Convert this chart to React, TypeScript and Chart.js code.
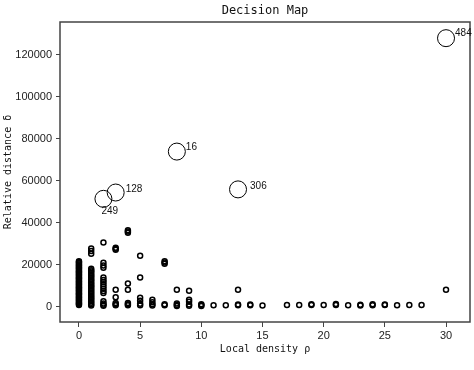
import React, { useEffect, useRef } from "react";
import { Chart, registerables } from "chart.js";

Chart.register(...registerables);

const TITLE = "Decision Map";
const X_TITLE = "Local density ρ";
const Y_TITLE = "Relative distance δ";

const X_TICKS = [0, 5, 10, 15, 20, 25, 30];
const Y_TICKS = [0, 20000, 40000, 60000, 80000, 100000, 120000];

// Highlighted cluster centres
const BIG_X = [30, 8, 3, 2, 13];
const BIG_Y = [128000, 74000, 54500, 51500, 56000];
const BIG_LABELS = ["484", "16", "128", "249", "306"];

// Ordinary points, grouped by local density value
const COL_X = [0, 1, 2, 3, 4, 5, 6, 7, 8, 9, 10, 11, 12, 13, 14, 15, 17, 18, 19, 20, 21, 22, 23, 24, 25, 26, 27, 28, 30];
const COL_Y = [
  [21800, 21400, 20900, 20300, 19900, 19400, 18800, 18400, 17900, 17300, 16800, 16400, 15800, 15300, 14900, 14300, 13800, 13400, 12800, 12300, 11900, 11300, 10800, 10400, 9800, 9300, 8900, 8300, 7800, 7400, 6800, 6300, 5900, 5300, 4800, 4400, 3800, 3300, 2900, 2300, 1800, 1400, 900],
  [27800, 26600, 25300, 18200, 17500, 16900, 16200, 15400, 14700, 14000, 13200, 12600, 11800, 11100, 10400, 9700, 9000, 8300, 7600, 6900, 6200, 5500, 4800, 4100, 3400, 2700, 2000, 1300, 700],
  [30700, 21100, 19800, 18700, 14000, 12900, 11900, 10800, 9700, 8700, 7600, 6700, 2700, 1600, 1100, 600],
  [28200, 27700, 27200, 8200, 4600, 1900, 1300, 800],
  [36500, 36000, 35400, 11200, 8200, 1900, 1300, 800],
  [24400, 14000, 4400, 3000, 1500, 800],
  [3400, 2200, 1300, 700],
  [21800, 21200, 20600, 1300, 800],
  [8200, 1600, 1000, 500],
  [7700, 3400, 2500, 1200, 600],
  [1300, 900, 500],
  [800],
  [800],
  [8200, 1200, 800],
  [1200, 800],
  [700],
  [900],
  [900],
  [1300, 900],
  [1000],
  [1400, 900],
  [800],
  [1100, 700],
  [1300, 800],
  [1200, 900],
  [800],
  [1000],
  [1000],
  [8200],
];

const MONO = "'DejaVu Sans Mono', monospace";
const SANS = "'Liberation Sans', Arial, sans-serif";

const framePlugin = {
  id: "frame",
  afterDatasetsDraw(chart: any) {
    const { ctx, chartArea } = chart;
    ctx.save();
    ctx.strokeStyle = "#444";
    ctx.lineWidth = 1.5;
    ctx.strokeRect(chartArea.left, chartArea.top, chartArea.right - chartArea.left, chartArea.bottom - chartArea.top);
    ctx.restore();
  },
};

const LABEL_OFFSETS: Record<string, [number, number]> = {
  "484": [9, -5],
  "16": [9, -4],
  "128": [10, -3],
  "249": [-2, 12],
  "306": [12, -3],
};

const labelPlugin = {
  id: "centreLabels",
  afterDatasetsDraw(chart: any) {
    const { ctx } = chart;
    const meta = chart.getDatasetMeta(1);
    ctx.save();
    ctx.font = `10px ${SANS}`;
    ctx.fillStyle = "#111";
    ctx.textAlign = "left";
    ctx.textBaseline = "middle";
    meta.data.forEach((el: any, i: number) => {
      const lab = BIG_LABELS[i];
      const off = LABEL_OFFSETS[lab] || [9, -4];
      ctx.fillText(lab, el.x + off[0], el.y + off[1]);
    });
    ctx.restore();
  },
};

export default function App() {
  const ref = useRef<HTMLCanvasElement | null>(null);

  useEffect(() => {
    if (!ref.current) return;
    const small: { x: number; y: number }[] = [];
    COL_X.forEach((x, i) => COL_Y[i].forEach((y) => small.push({ x, y })));
    const big = BIG_X.map((x, i) => ({ x, y: BIG_Y[i] }));

    const chart = new Chart(ref.current, {
      type: "scatter",
      data: {
        datasets: [
          {
            data: small,
            pointRadius: 2.5,
            pointBorderWidth: 1.5,
            pointBorderColor: "#000",
            pointBackgroundColor: "rgba(0,0,0,0)",
          },
          {
            data: big,
            pointRadius: 8.5,
            pointBorderWidth: 1,
            pointBorderColor: "#000",
            pointBackgroundColor: "rgba(0,0,0,0)",
          },
        ],
      },
      options: {
        animation: false,
        responsive: false,
        layout: { autoPadding: false, padding: { top: 0, right: 4, bottom: 0, left: 0 } },
        plugins: {
          legend: { display: false },
          tooltip: { enabled: false },
          title: {
            display: true,
            text: TITLE,
            fullSize: false,
            color: "#111",
            font: { family: MONO, size: 12, weight: "normal" },
            padding: { top: 4, bottom: 3.6 },
          },
        },
        scales: {
          x: {
            type: "linear",
            min: -1.55,
            max: 31.96,
            afterBuildTicks: (s: any) => {
              s.ticks = X_TICKS.map((v) => ({ value: v }));
            },
            afterFit: (s: any) => {
              s.height = 48;
              s.paddingLeft = 0;
              s.paddingRight = 0;
            },
            grid: { display: true, drawOnChartArea: false, drawTicks: true, tickLength: 5, color: "#444" },
            border: { display: false },
            ticks: {
              color: "#222",
              font: { family: SANS, size: 11 },
              padding: 2,
              maxRotation: 0,
              callback: (v: any) => String(v),
            },
            title: {
              display: true,
              text: X_TITLE,
              color: "#111",
              font: { family: MONO, size: 10 },
              padding: { top: 0, bottom: 15 },
            },
          },
          y: {
            type: "linear",
            min: -7150,
            max: 135700,
            afterBuildTicks: (s: any) => {
              s.ticks = Y_TICKS.map((v) => ({ value: v }));
            },
            afterFit: (s: any) => {
              s.width = 60;
              s.paddingTop = 0;
              s.paddingBottom = 0;
            },
            grid: { display: true, drawOnChartArea: false, drawTicks: true, tickLength: 4, color: "#444" },
            border: { display: false },
            ticks: {
              color: "#222",
              font: { family: SANS, size: 11 },
              padding: 4,
              callback: (v: any) => String(v),
            },
            title: {
              display: true,
              text: Y_TITLE,
              color: "#111",
              font: { family: MONO, size: 10 },
              padding: { top: 2, bottom: 0 },
            },
          },
        },
      },
      plugins: [framePlugin, labelPlugin],
    } as any);
    return () => chart.destroy();
  }, []);

  return (
    <div style={{ position: "absolute", left: 0, top: 0, width: 474, height: 370, background: "#fff" }}>
      <canvas ref={ref} width={474} height={370} />
    </div>
  );
}
